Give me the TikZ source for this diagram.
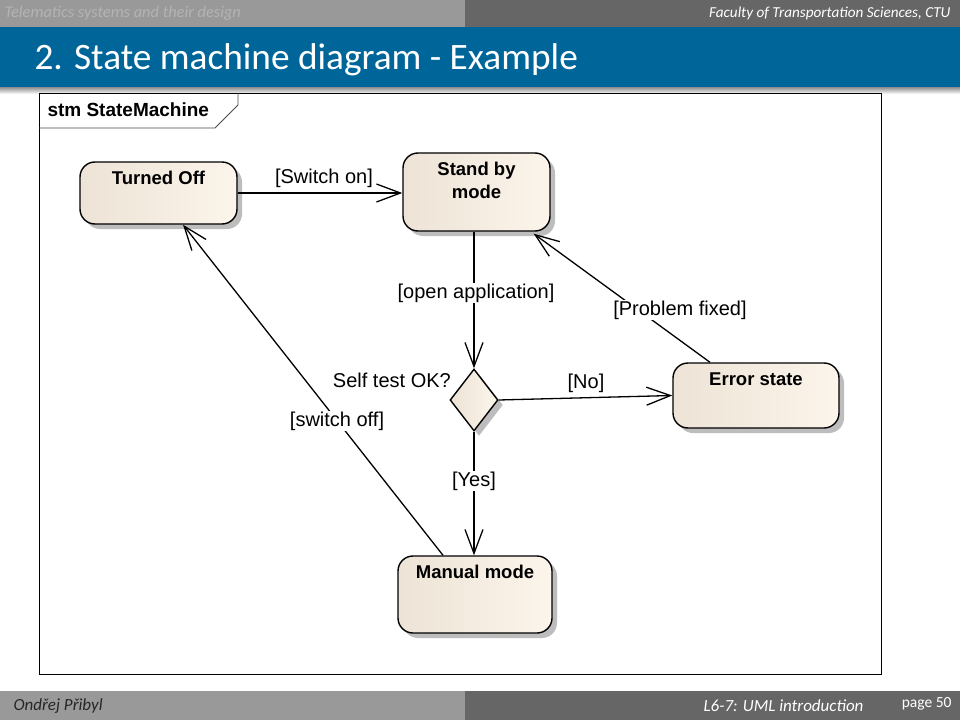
\documentclass[tikz,border=0pt]{standalone}
\usepackage{fontspec}
\setmainfont{Liberation Sans}
\newfontfamily\slidefont{Carlito}
\usepackage{xcolor}
\usepackage{tikz}
\usetikzlibrary{shapes.geometric, arrows.meta, positioning, shadows}
\definecolor{barlight}{HTML}{999999}
\definecolor{bardark}{HTML}{666666}
\definecolor{bartext}{HTML}{B4B4B4}
\definecolor{titleblue}{HTML}{00669A}
\definecolor{stateleft}{HTML}{EDE3D6}
\definecolor{stateright}{HTML}{FCF5EB}
\definecolor{shadowgray}{HTML}{BDBDBD}

\begin{document}
\begin{tikzpicture}[x=1bp, y=-1bp]
\tikzstyle{state} = [rectangle, rounded corners=15bp, draw, line width=1.4bp, left color=stateleft, right color=stateright, drop shadow={shadow xshift=5bp, shadow yshift=-5bp, fill=shadowgray, opacity=1}]
\tikzstyle{sname} = [anchor=north, inner sep=0pt, yshift=-10bp, font=\fontsize{18.5bp}{23bp}\selectfont\bfseries, align=center]
\tikzstyle{guard} = [font=\fontsize{20bp}{24bp}\selectfont, inner sep=1bp]
\tikzstyle{trans} = [line width=1.3bp, -{Straight Barb[length=24bp, width=18bp]}]
\tikzstyle{hdr} = [font=\slidefont\itshape]

\fill[white] (0,0) rectangle (960,720);
\useasboundingbox (0,0) rectangle (960,720);

\fill[barlight] (0,0) rectangle (465,27);
\fill[bardark] (465,0) rectangle (960,27);
\shade[top color=black!45, bottom color=white] (0,87) rectangle (960,94);
\fill[titleblue] (0,27) rectangle (960,87);
\node (course) [hdr, text=bartext, anchor=west] at (1,13) {\fontsize{16.4bp}{19bp}\selectfont Telematics systems and their design};
\node (faculty) [hdr, text=white, anchor=east] at (954,13) {\fontsize{15.2bp}{18bp}\selectfont Faculty of Transportation Sciences, CTU};
\node (title) [anchor=west, text=white, font=\slidefont\fontsize{37.3bp}{44bp}\selectfont] at (31,60) {2. State machine diagram - Example};

\fill[barlight] (0,691) rectangle (465,720);
\fill[bardark] (465,691) rectangle (960,720);
\node (author) [hdr, text=black!85, anchor=west] at (10,706) {\fontsize{17bp}{20bp}\selectfont Ondřej Přibyl};
\node (lecture) [hdr, text=white, anchor=east] at (867,706) {\fontsize{17bp}{20bp}\selectfont L6-7: UML introduction};
\node (page) [font=\slidefont\fontsize{15.5bp}{18bp}\selectfont, text=white, anchor=east] at (955,704) {page 50};

\draw[line width=0.8bp] (39,93) rectangle (881,674);
\draw[line width=0.8bp, draw=black!70] (39,128) -- (215,128) -- (238,105) -- (238,93);
\node (frame) [anchor=west, font=\fontsize{19bp}{22bp}\selectfont\bfseries] at (44,110) {stm StateMachine};

\node (off) [state, minimum width=157bp, minimum height=62bp, label={[sname]north:Turned Off}] at (158.5,193) {};
\node (sb) [state, minimum width=147bp, minimum height=78bp, label={[sname]north:Stand by\\mode}] at (476.5,192) {};
\node (err) [state, minimum width=166bp, minimum height=65bp, label={[sname]north:Error state}] at (756,395.5) {};
\node (man) [state, minimum width=154bp, minimum height=77bp, label={[sname]north:Manual mode}] at (475,594.5) {};
\node (dia) [diamond, draw, line width=1.4bp, minimum width=48bp, minimum height=62bp, inner sep=0pt, left color=stateleft, right color=stateright, drop shadow={shadow xshift=5bp, shadow yshift=-5bp, fill=shadowgray, opacity=1}] at (474,400) {};
\node (test) [guard, anchor=east] at (452,380) {Self test OK?};

\draw[trans] (off.east) -- (off.east -| sb.west);
\draw[trans] (dia |- sb.south) -- (dia.north);
\draw[trans] (dia.east) -- (err.west);
\draw[trans] ([xshift=-46bp]err.north) -- ([xshift=-17bp, yshift=-2bp]sb.south east);
\draw[trans] (dia.south) -- (dia |- man.north);
\draw[trans] ([xshift=-32bp]man.north) -- ([xshift=24.5bp]off.south);

\node (gon) [guard] at (324,178) {[Switch on]};
\node (gopen) [guard, fill=white] at (476,293) {[open application]};
\node (gfix) [guard, fill=white] at (680,310) {[Problem fixed]};
\node (gno) [guard] at (586,383) {[No]};
\node (gyes) [guard, fill=white] at (474,481) {[Yes]};
\node (goff) [guard, fill=white] at (337,421) {[switch off]};

\end{tikzpicture}
\end{document}
